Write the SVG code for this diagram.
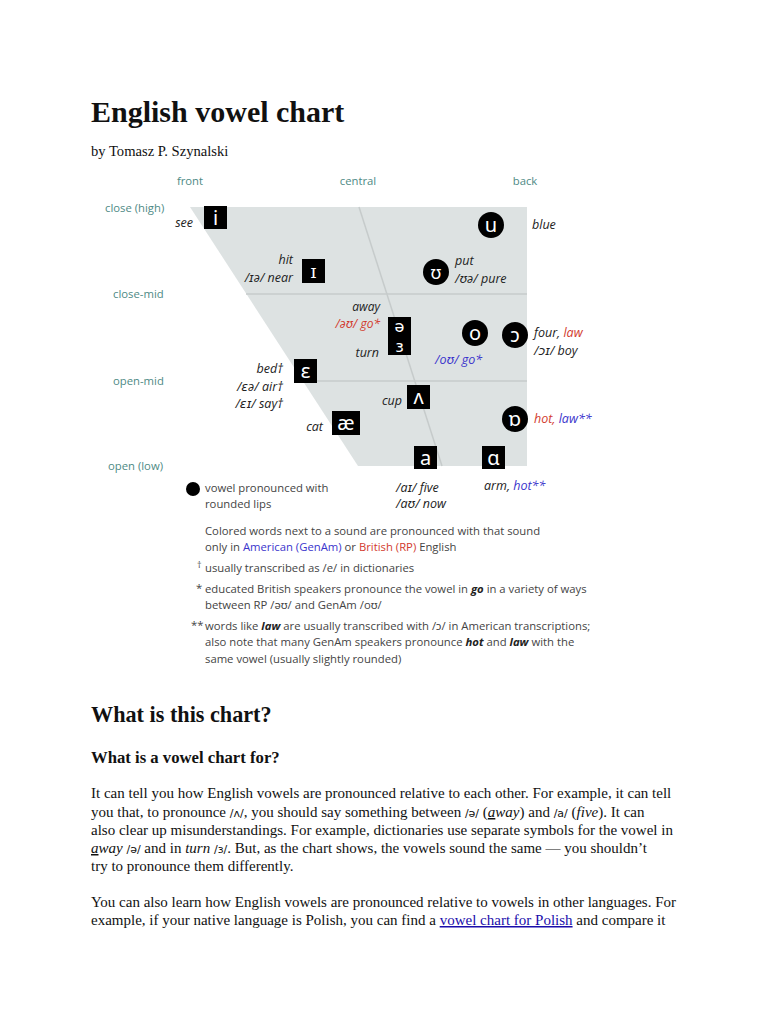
<svg xmlns="http://www.w3.org/2000/svg" width="768" height="1024" viewBox="0 0 768 1024">
<style>
.serif{font-family:"Liberation Serif","Times New Roman",serif;fill:#111}
.ax{font-family:"Open Sans","Noto Sans",sans-serif;font-size:11.3px;fill:#4e8a85}
.lb{font-family:"Open Sans","DejaVu Sans",sans-serif;font-size:12.5px;font-style:italic;fill:#222}
.red{fill:#d23a2e}
.blue{fill:#3a34cc}
.sym{font-family:"Noto Sans","DejaVu Sans",sans-serif;font-size:20px;fill:#fff;text-anchor:middle}
.lg{font-family:"Open Sans","Noto Sans",sans-serif;font-size:11.3px;fill:#444}
.bi{font-weight:bold;font-style:italic;fill:#222}
.body{font-family:"Liberation Serif","Times New Roman",serif;font-size:15px;fill:#111}
.ipa{font-family:"DejaVu Sans",sans-serif;font-size:11px}
.box{fill:#000}
</style>
<rect width="768" height="1024" fill="#fff"/>
<text class="serif" x="91" y="122" font-size="30" font-weight="bold">English vowel chart</text>
<text class="serif" x="91" y="156" font-size="14.6">by Tomasz P. Szynalski</text>

<g id="chart">
<polygon points="190,207 527,207 527,466 358,466" fill="#dde2e2"/>
</g>
<g id="connectors" stroke="#c6cbcb" stroke-width="1.5" fill="none">
<line x1="246" y1="294" x2="527" y2="294"/>
<line x1="302" y1="381" x2="527" y2="381"/>
<line x1="359" y1="207" x2="442" y2="466"/>
</g>

<g id="axis-labels">
<text class="ax" x="190" y="185" text-anchor="middle">front</text>
<text class="ax" x="358" y="185" text-anchor="middle">central</text>
<text class="ax" x="525" y="185" text-anchor="middle">back</text>
<text class="ax" x="105" y="212">close (high)</text>
<text class="ax" x="113" y="298">close-mid</text>
<text class="ax" x="113" y="385">open-mid</text>
<text class="ax" x="108" y="470">open (low)</text>
</g>

<g id="v-i"><rect class="box" x="204" y="206" width="23" height="23"/><text class="sym" x="215.5" y="225">i</text>
<text class="lb" x="193" y="227" text-anchor="end">see</text></g>
<g id="v-ih"><rect class="box" x="302" y="259" width="23" height="24"/><text class="sym" x="313.5" y="278" style="font-family:'DejaVu Serif',serif;font-size:18px">ɪ</text>
<text class="lb" x="293" y="264" text-anchor="end">hit</text><text class="lb" x="293" y="282" text-anchor="end">/ɪə/ near</text></g>
<g id="v-u"><circle cx="491" cy="225" r="13" fill="#000"/><text class="sym" x="491" y="232">u</text>
<text class="lb" x="532" y="229">blue</text></g>
<g id="v-uh"><circle cx="436" cy="272" r="13" fill="#000"/><text class="sym" x="436" y="279" style="font-size:18px">ʊ</text>
<text class="lb" x="455" y="265">put</text><text class="lb" x="455" y="283">/ʊə/ pure</text></g>
<g id="v-schwa"><rect class="box" x="388" y="317" width="23" height="38"/><text class="sym" x="399.5" y="332" style="font-family:'DejaVu Sans',sans-serif;font-size:16px">ə</text><text class="sym" x="399.5" y="352" style="font-family:'DejaVu Sans',sans-serif;font-size:16px">ɜ</text>
<text class="lb" x="380" y="311" style="font-size:12px" text-anchor="end">away</text><text class="lb red" x="380" y="328" style="font-size:12px" text-anchor="end">/əʊ/ go*</text><text class="lb" x="379" y="357" text-anchor="end">turn</text></g>
<g id="v-o"><circle cx="475" cy="333" r="13" fill="#000"/><text class="sym" x="475" y="340">o</text>
<text class="lb blue" x="435" y="364">/oʊ/ go*</text></g>
<g id="v-open-o"><circle cx="515" cy="335" r="13" fill="#000"/><text class="sym" x="515" y="342">ɔ</text>
<text class="lb" x="534" y="337">four, <tspan class="red">law</tspan></text><text class="lb" x="534" y="355">/ɔɪ/ boy</text></g>
<g id="v-e"><rect class="box" x="294" y="359" width="23" height="24"/><text class="sym" x="305.5" y="378">ɛ</text>
<text class="lb" x="283" y="373" text-anchor="end">bed†</text><text class="lb" x="283" y="391" text-anchor="end">/ɛə/ air†</text><text class="lb" x="283" y="408" text-anchor="end">/ɛɪ/ say†</text></g>
<g id="v-ae"><rect class="box" x="332" y="411" width="28" height="24"/><text class="sym" x="346" y="430">æ</text>
<text class="lb" x="323" y="431" text-anchor="end">cat</text></g>
<g id="v-wedge"><rect class="box" x="407" y="385" width="23" height="24"/><text class="sym" x="418.5" y="404">ʌ</text>
<text class="lb" x="402" y="405" text-anchor="end">cup</text></g>
<g id="v-turned-a"><circle cx="515" cy="419" r="13" fill="#000"/><text class="sym" x="515" y="426">ɒ</text>
<text class="lb" x="534" y="423"><tspan class="red">hot,</tspan> <tspan class="blue">law**</tspan></text></g>
<g id="v-a"><rect class="box" x="414" y="446" width="23" height="23"/><text class="sym" x="425.5" y="465">a</text>
<text class="lb" x="396" y="492">/aɪ/ five</text><text class="lb" x="396" y="508">/aʊ/ now</text></g>
<g id="v-script-a"><rect class="box" x="482" y="446" width="23" height="23"/><text class="sym" x="493.5" y="465">ɑ</text>
<text class="lb" x="484" y="490">arm, <tspan class="blue">hot**</tspan></text></g>

<g id="legend">
<circle cx="193" cy="489" r="7" fill="#000"/>
<text class="lg" x="205" y="492">vowel pronounced with</text>
<text class="lg" x="205" y="508">rounded lips</text>
<text class="lg" x="205" y="535">Colored words next to a sound are pronounced with that sound</text>
<text class="lg" x="205" y="551">only in <tspan class="blue">American (GenAm)</tspan> or <tspan class="red">British (RP)</tspan> English</text>
<text class="lg" x="197" y="568" style="font-size:9px">†</text>
<text class="lg" x="205" y="572">usually transcribed as /e/ in dictionaries</text>
<text class="lg" x="196" y="592">*</text>
<text class="lg" x="205" y="593">educated British speakers pronounce the vowel in <tspan class="bi">go</tspan> in a variety of ways</text>
<text class="lg" x="205" y="609">between RP /əʊ/ and GenAm /oʊ/</text>
<text class="lg" x="191" y="629">**</text>
<text class="lg" x="205" y="630">words like <tspan class="bi">law</tspan> are usually transcribed with /ɔ/ in American transcriptions;</text>
<text class="lg" x="205" y="646">also note that many GenAm speakers pronounce <tspan class="bi">hot</tspan> and <tspan class="bi">law</tspan> with the</text>
<text class="lg" x="205" y="663">same vowel (usually slightly rounded)</text>
</g>

<text class="serif" x="91" y="722" font-size="22.2" font-weight="bold">What is this chart?</text>
<text class="serif" x="91" y="763" font-size="16.7" font-weight="bold">What is a vowel chart for?</text>

<g id="body">
<text class="body" x="91" y="798">It can tell you how English vowels are pronounced relative to each other. For example, it can tell</text>
<text class="body" x="91" y="817">you that, to pronounce <tspan class="ipa">/ʌ/</tspan>, you should say something between <tspan class="ipa">/ə/</tspan> (<tspan font-style="italic"><tspan text-decoration="underline">a</tspan>way</tspan>) and <tspan class="ipa">/a/</tspan> (<tspan font-style="italic">five</tspan>). It can</text>
<text class="body" x="91" y="835">also clear up misunderstandings. For example, dictionaries use separate symbols for the vowel in</text>
<text class="body" x="91" y="853"><tspan font-style="italic"><tspan text-decoration="underline">a</tspan>way</tspan> <tspan class="ipa">/ə/</tspan> and in <tspan font-style="italic">turn</tspan> <tspan class="ipa">/ɜ/</tspan>. But, as the chart shows, the vowels sound the same — you shouldn’t</text>
<text class="body" x="91" y="871">try to pronounce them differently.</text>
<text class="body" x="91" y="907">You can also learn how English vowels are pronounced relative to vowels in other languages. For</text>
<text class="body" x="91" y="925">example, if your native language is Polish, you can find a <tspan fill="#1a0dab" text-decoration="underline">vowel chart for Polish</tspan> and compare it</text>
</g>
</svg>
